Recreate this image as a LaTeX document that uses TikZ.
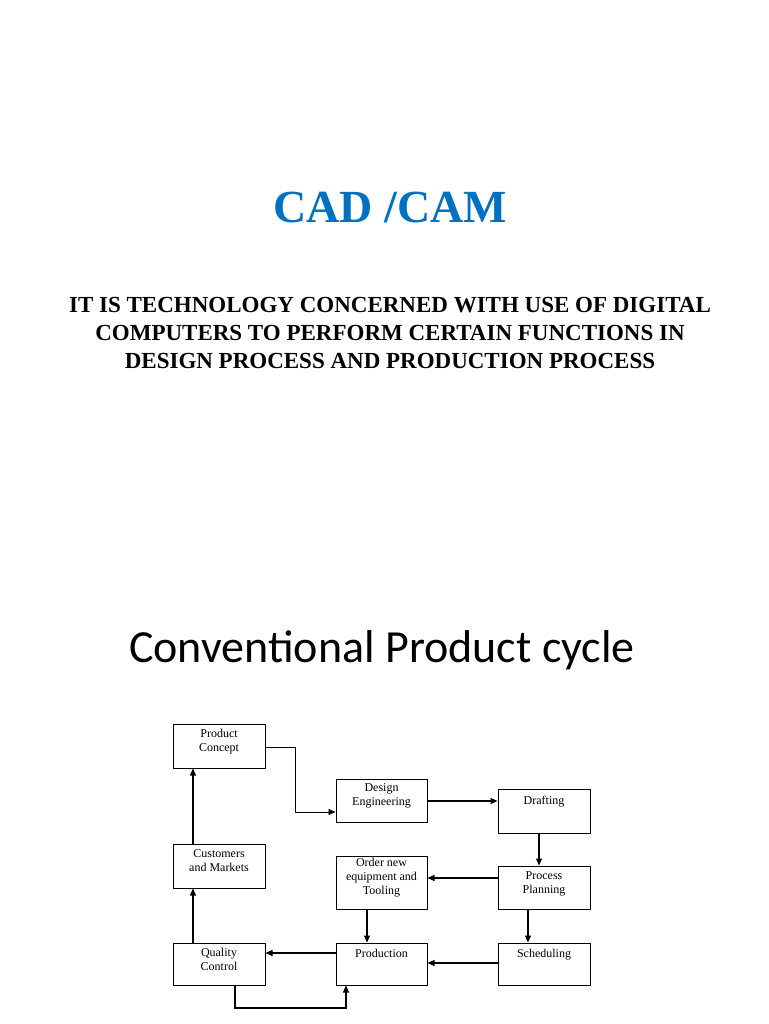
\documentclass[tikz,border=0pt]{standalone}
\usepackage{fontspec}
\setmainfont{Liberation Serif}
\newfontfamily\calib{Carlito}
\usetikzlibrary{arrows.meta}
\definecolor{titleblue}{HTML}{0070C0}
\begin{document}
\begin{tikzpicture}[x=1pt,y=-1pt,
  bx/.style={draw,line width=1pt,inner sep=0pt},
  conn/.style={line width=1.1pt,-{Triangle[length=7pt,width=6pt]}},
  lbl/.style={anchor=north,align=center,inner sep=0pt,font=\fontsize{12}{14}\selectfont}]
\useasboundingbox (0,0) rectangle (768,1024);
\node[font=\bfseries\fontsize{46}{46}\selectfont,text=titleblue] (t) at (390,207) {CAD /CAM};
\node[font=\bfseries\fontsize{23}{28}\selectfont,align=center] (s) at (390,333) {IT IS TECHNOLOGY CONCERNED WITH USE OF DIGITAL\\COMPUTERS TO PERFORM CERTAIN  FUNCTIONS IN\\DESIGN PROCESS AND PRODUCTION PROCESS};
\node[font=\calib\fontsize{46}{46}\selectfont] (c) at (382,650) {Conventional Product cycle};
\node[bx,minimum width=92pt,minimum height=44pt] (pc) at (219,746) {};
\node[bx,minimum width=91pt,minimum height=43pt] (de) at (381.5,800.5) {};
\node[bx,minimum width=92pt,minimum height=44pt] (dr) at (544,811) {};
\node[bx,minimum width=92pt,minimum height=44pt] (cm) at (219,866) {};
\node[bx,minimum width=91pt,minimum height=53pt] (on) at (381.5,882.5) {};
\node[bx,minimum width=92pt,minimum height=43pt] (pp) at (544,887.5) {};
\node[bx,minimum width=92pt,minimum height=42pt] (qc) at (219,964) {};
\node[bx,minimum width=91pt,minimum height=42pt] (pr) at (381.5,964) {};
\node[bx,minimum width=92pt,minimum height=42pt] (sc) at (544,964) {};
\node[lbl] (pcl) at ([yshift=-5pt]pc.north) {Product\\Concept};
\node[lbl] (del) at ([yshift=-5pt]de.north) {Design\\Engineering};
\node[lbl] (drl) at ([yshift=-7pt]dr.north) {Drafting};
\node[lbl] (cml) at ([yshift=-6pt]cm.north) {Customers\\and Markets};
\node[lbl] (onl) at ([yshift=-2pt]on.north) {Order new\\equipment and\\Tooling};
\node[lbl] (ppl) at ([yshift=-6pt]pp.north) {Process\\Planning};
\node[lbl] (qcl) at ([yshift=-5pt]qc.north) {Quality\\Control};
\node[lbl] (prl) at ([yshift=-6pt]pr.north) {Production};
\node[lbl] (scl) at ([yshift=-6pt]sc.north) {Scheduling};
\coordinate (a1) at (295,747); \coordinate (a2) at (295,812);
\draw[conn,line width=0.6pt] (pc.east |- a1) -- (a1) -- (a2) -- (de.west |- a2);
\draw[conn] (de.east |- 0,801) -- (dr.west |- 0,801);
\draw[conn] (dr.south -| 539,0) -- (pp.north -| 539,0);
\draw[conn] (pp.west |- 0,878) -- (on.east |- 0,878);
\draw[conn] (pp.south -| 528,0) -- (sc.north -| 528,0);
\draw[conn] (on.south -| 367,0) -- (pr.north -| 367,0);
\draw[conn] (sc.west |- 0,963) -- (pr.east |- 0,963);
\draw[conn] (pr.west |- 0,953) -- (qc.east |- 0,953);
\coordinate (b1) at (235,1008); \coordinate (b2) at (346,1008);
\draw[conn] (qc.south -| b1) -- (b1) -- (b2) -- (pr.south -| b2);
\draw[conn] (qc.north -| 193,0) -- (cm.south -| 193,0);
\draw[conn] (cm.north -| 193,0) -- (pc.south -| 193,0);
\end{tikzpicture}
\end{document}
